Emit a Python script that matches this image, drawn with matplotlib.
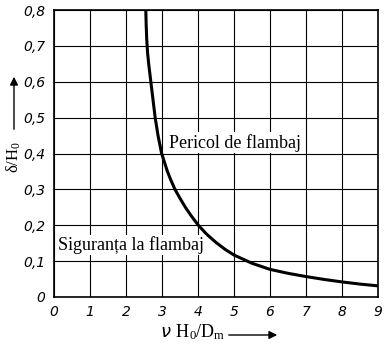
import numpy as np
import matplotlib
matplotlib.use("Agg")
import matplotlib.pyplot as plt

# curve: nu*H0/Dm vs delta/H0
x_vals = [2.55, 2.56, 2.575, 2.60, 2.63, 2.69, 2.75, 2.81, 2.89, 2.99, 3.07, 3.15, 3.25, 3.36, 3.5, 3.65,
          3.82, 4.01, 4.24, 4.5, 4.75, 5.0, 5.5, 6.0, 6.5, 7.0, 7.5, 8.0, 8.5, 9.0]
y_vals = [0.80, 0.76, 0.72, 0.68, 0.65, 0.60, 0.55, 0.50, 0.45, 0.40, 0.375, 0.35, 0.325, 0.30, 0.275, 0.25,
          0.225, 0.20, 0.175, 0.152, 0.133, 0.117, 0.094, 0.077, 0.066, 0.057, 0.049, 0.042, 0.036, 0.031]

x_ticks = list(range(0, 10))
y_ticks = [0, 0.1, 0.2, 0.3, 0.4, 0.5, 0.6, 0.7, 0.8]
y_tick_labels = ['0', '0,1', '0,2', '0,3', '0,4', '0,5', '0,6', '0,7', '0,8']

W, H = 386, 347
fig = plt.figure(figsize=(W / 100, H / 100), dpi=100)
ax = fig.add_axes([54 / W, 50 / H, 324 / W, 287 / H])

ax.plot(x_vals, y_vals, color='black', lw=2.2, solid_joinstyle='round')

ax.set_xlim(0, 9)
ax.set_ylim(0, 0.8)
ax.set_xticks(x_ticks)
ax.set_yticks(y_ticks)
ax.set_xticklabels([str(v) for v in x_ticks], fontstyle='italic', fontsize=10)
ax.set_yticklabels(y_tick_labels, fontstyle='italic', fontsize=10)
ax.tick_params(length=0, pad=6)
ax.grid(True, color='black', lw=0.8)
for s in ax.spines.values():
    s.set_linewidth(1.2)

serif = ['Liberation Serif', 'DejaVu Serif']
ax.text(3.2, 0.43, 'Pericol de flambaj', family=serif, fontsize=13, va='center',
        bbox=dict(fc='white', ec='none', pad=1))
ax.text(0.12, 0.145, 'Siguranța la flambaj', family=serif, fontsize=13, va='center',
        bbox=dict(fc='white', ec='none', pad=1))

# axis labels with arrows
fig.text(14 / W, 1 - 157 / H, r'$\mathregular{\delta/H_0}$', family=serif, fontsize=12,
         rotation=90, ha='center', va='center')
fig.patches.append(matplotlib.patches.FancyArrowPatch(
    (14 / W, 1 - 132 / H), (14 / W, 1 - 74 / H), transform=fig.transFigure,
    arrowstyle='-|>', mutation_scale=12, color='black', lw=1))
fig.text(160 / W, 1 - 332 / H, r'$\nu\ \mathregular{H_0/D_m}$', family=serif, fontsize=13,
         ha='left', va='center')
fig.patches.append(matplotlib.patches.FancyArrowPatch(
    (226 / W, 1 - 335 / H), (280 / W, 1 - 335 / H), transform=fig.transFigure,
    arrowstyle='-|>', mutation_scale=12, color='black', lw=1))

fig.savefig('out.png', dpi=100)
